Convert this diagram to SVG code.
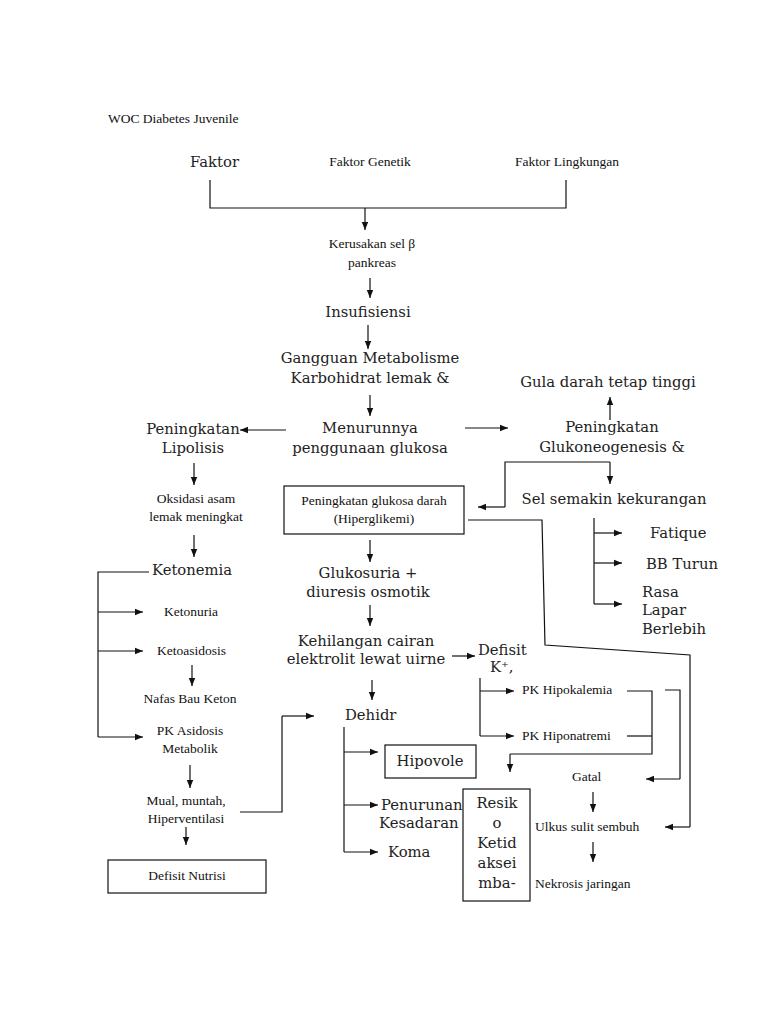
<svg xmlns="http://www.w3.org/2000/svg" width="768" height="1024" viewBox="0 0 768 1024">
<style>
.s{font-family:"Liberation Serif",serif;font-size:13.5px;fill:#111}
.d{font-family:"DejaVu Serif",serif;font-size:14.8px;fill:#222}
.m{text-anchor:middle}
.l{stroke:#111;stroke-width:1.2;fill:none}
.a{stroke:#111;stroke-width:1.2;fill:none;marker-end:url(#ar)}
rect{fill:#fff;stroke:#111;stroke-width:1.2}
</style>
<defs><marker id="ar" viewBox="0 0 10 10" refX="10" refY="5" markerWidth="7" markerHeight="7" orient="auto"><path d="M0,1 L10,5 L0,9 z" fill="#111"/></marker></defs>
<rect x="0" y="0" width="768" height="1024" style="stroke:none"/>
<text class="s" x="108" y="123">WOC Diabetes Juvenile</text>
<g id="connectors">
<path class="l" d="M210,180 V208 H566 V180"/>
<path class="a" d="M365,208 V230"/>
<path class="a" d="M370,278 V298"/>
<path class="a" d="M368,325 V349"/>
<path class="a" d="M370,395 V416"/>
<path class="a" d="M286,430 H240"/>
<path class="a" d="M465,428 H508"/>
<path class="a" d="M610,420 V397"/>
<path class="l" d="M610,462 H505 V507"/><path class="a" d="M505,507 H478"/>
<path class="a" d="M610,462 V484"/>
<path class="l" d="M594,518 V604"/>
<path class="a" d="M594,533 H622"/><path class="a" d="M594,563 H622"/><path class="a" d="M594,604 H622"/>
<path class="l" d="M468,520 H542 L545,645 L690,655 V827"/><path class="a" d="M690,827 H665"/>
<path class="a" d="M370,540 V562"/>
<path class="a" d="M370,605 V626"/>
<path class="a" d="M452,656 H475"/>
<path class="l" d="M480,678 V736"/>
<path class="a" d="M480,691 H514"/><path class="a" d="M480,736 H514"/>
<path class="l" d="M627,691 H652 V754 H510"/><path class="a" d="M510,754 V772"/>
<path class="l" d="M627,736 H652"/>
<path class="l" d="M665,690 H680 V779"/><path class="a" d="M680,779 H646"/>
<path class="a" d="M593,792 V812"/>
<path class="a" d="M593,842 V862"/>
<path class="a" d="M372,680 V700"/>
<path class="l" d="M344,727 V852"/>
<path class="a" d="M344,752 H378"/><path class="a" d="M344,805 H378"/><path class="a" d="M344,852 H378"/>
<path class="a" d="M194,463 V485"/>
<path class="a" d="M194,535 V557"/>
<path class="l" d="M149,572 H98 V737"/>
<path class="a" d="M98,612 H143"/><path class="a" d="M98,651 H143"/><path class="a" d="M98,737 H143"/>
<path class="a" d="M192,665 V686"/>
<path class="a" d="M190,765 V788"/>
<path class="l" d="M240,812 H282 V716"/><path class="a" d="M282,716 H314"/>
<path class="a" d="M186,827 V845"/>
</g>
<g id="faktor"><text class="d" x="190" y="167">Faktor</text></g>
<g id="genetik"><text class="s m" x="370" y="166">Faktor Genetik</text></g>
<g id="lingkungan"><text class="s m" x="567" y="166">Faktor Lingkungan</text></g>
<g id="kerusakan"><text class="s m" x="372" y="248">Kerusakan sel β</text><text class="s m" x="372" y="267">pankreas</text></g>
<g id="insufisiensi"><text class="d m" x="368" y="317">Insufisiensi</text></g>
<g id="gangguan"><text class="d m" x="370" y="363">Gangguan Metabolisme</text><text class="d m" x="370" y="383">Karbohidrat lemak &amp;</text></g>
<g id="menurunnya"><text class="d m" x="370" y="433">Menurunnya</text><text class="d m" x="370" y="453">penggunaan glukosa</text></g>
<g id="lipolisis"><text class="d m" x="193" y="434">Peningkatan</text><text class="d m" x="193" y="453">Lipolisis</text></g>
<g id="gula"><text class="d m" x="608" y="387">Gula darah tetap tinggi</text></g>
<g id="glukoneo"><text class="d m" x="612" y="432">Peningkatan</text><text class="d m" x="612" y="452">Glukoneogenesis &amp;</text></g>
<g id="sel"><text class="d m" x="614" y="504">Sel semakin kekurangan</text></g>
<g id="fatique"><text class="d" x="650" y="538">Fatique</text></g>
<g id="bb"><text class="d" x="646" y="569">BB Turun</text></g>
<g id="rasa"><text class="d" x="642" y="597">Rasa</text><text class="d" x="642" y="615">Lapar</text><text class="d" x="642" y="634">Berlebih</text></g>
<g id="hiperglikemi"><rect x="284" y="486" width="180" height="48"/><text class="s m" x="374" y="505">Peningkatan glukosa darah</text><text class="s m" x="374" y="523">(Hiperglikemi)</text></g>
<g id="glukosuria"><text class="d m" x="368" y="578">Glukosuria +</text><text class="d m" x="368" y="597">diuresis osmotik</text></g>
<g id="kehilangan"><text class="d m" x="366" y="646">Kehilangan cairan</text><text class="d m" x="366" y="664">elektrolit lewat uirne</text></g>
<g id="defisitk"><text class="d" x="478" y="655">Defisit</text><text class="d" x="490" y="672">K⁺,</text></g>
<g id="hipokalemia"><text class="s" x="522" y="694">PK Hipokalemia</text></g>
<g id="hiponatremi"><text class="s" x="522" y="740">PK Hiponatremi</text></g>
<g id="gatal"><text class="s" x="572" y="781">Gatal</text></g>
<g id="ulkus"><text class="s" x="535" y="831">Ulkus sulit sembuh</text></g>
<g id="nekrosis"><text class="s" x="535" y="888">Nekrosis jaringan</text></g>
<g id="dehidr"><text class="d" x="345" y="720">Dehidr</text></g>
<g id="hipovole"><rect x="385" y="745" width="91" height="33"/><text class="d m" x="430" y="766">Hipovole</text></g>
<g id="penurunan"><text class="d" x="381" y="810">Penurunan</text><text class="d" x="379" y="828">Kesadaran</text></g>
<g id="koma"><text class="d" x="388" y="857">Koma</text></g>
<g id="resiko"><rect x="463" y="789" width="67" height="112"/><text class="d m" x="497" y="808">Resik</text><text class="d m" x="497" y="828">o</text><text class="d m" x="497" y="848">Ketid</text><text class="d m" x="497" y="868">aksei</text><text class="d m" x="497" y="888">mba-</text></g>
<g id="oksidasi"><text class="s m" x="196" y="503">Oksidasi asam</text><text class="s m" x="196" y="521">lemak meningkat</text></g>
<g id="ketonemia"><text class="d" x="152" y="575">Ketonemia</text></g>
<g id="ketonuria"><text class="s" x="164" y="616">Ketonuria</text></g>
<g id="ketoasidosis"><text class="s" x="157" y="655">Ketoasidosis</text></g>
<g id="nafas"><text class="s m" x="190" y="703">Nafas Bau Keton</text></g>
<g id="asidosis"><text class="s m" x="190" y="735">PK Asidosis</text><text class="s m" x="190" y="753">Metabolik</text></g>
<g id="mual"><text class="s m" x="186" y="805">Mual, muntah,</text><text class="s m" x="186" y="823">Hiperventilasi</text></g>
<g id="defisitnutrisi"><rect x="108" y="860" width="158" height="33"/><text class="s m" x="187" y="880">Defisit Nutrisi</text></g>
</svg>
